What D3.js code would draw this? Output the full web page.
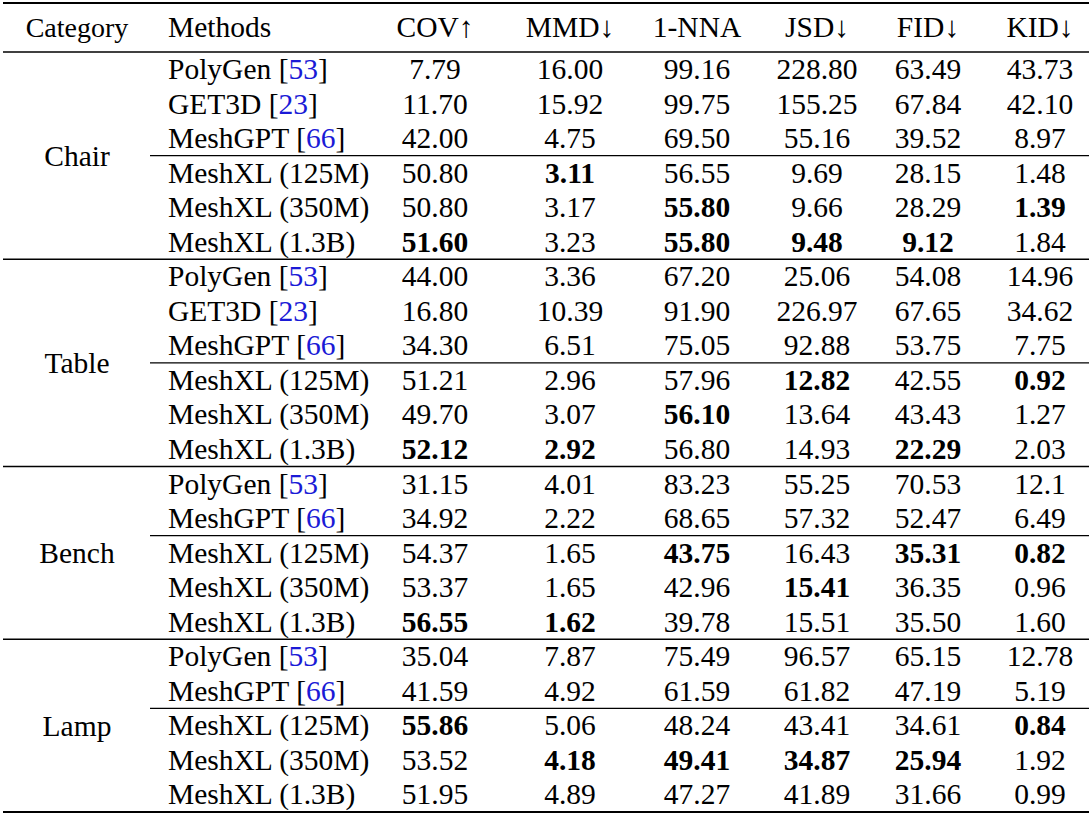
<!DOCTYPE html>
<html><head><meta charset="utf-8">
<script src="https://cdn.jsdelivr.net/npm/d3@7"></script>
<style>html,body{margin:0;padding:0;background:#fff}</style>
</head><body><svg id="c" width="1092" height="815"></svg>
<script>
const headers = ["Category","Methods","COV↑","MMD↓","1-NNA","JSD↓","FID↓","KID↓"];
const categories = ["Chair","Table","Bench","Lamp"];
const methods = [
 ["PolyGen","53"],["GET3D","23"],["MeshGPT","66"],["MeshXL (125M)",null],["MeshXL (350M)",null],["MeshXL (1.3B)",null],
 ["PolyGen","53"],["GET3D","23"],["MeshGPT","66"],["MeshXL (125M)",null],["MeshXL (350M)",null],["MeshXL (1.3B)",null],
 ["PolyGen","53"],["MeshGPT","66"],["MeshXL (125M)",null],["MeshXL (350M)",null],["MeshXL (1.3B)",null],
 ["PolyGen","53"],["MeshGPT","66"],["MeshXL (125M)",null],["MeshXL (350M)",null],["MeshXL (1.3B)",null]
];
const rowCategory = [0,0,0,0,0,0,1,1,1,1,1,1,2,2,2,2,2,3,3,3,3,3];
const values = [
 ["7.79","16.00","99.16","228.80","63.49","43.73"],
 ["11.70","15.92","99.75","155.25","67.84","42.10"],
 ["42.00","4.75","69.50","55.16","39.52","8.97"],
 ["50.80","*3.11","56.55","9.69","28.15","1.48"],
 ["50.80","3.17","*55.80","9.66","28.29","*1.39"],
 ["*51.60","3.23","*55.80","*9.48","*9.12","1.84"],
 ["44.00","3.36","67.20","25.06","54.08","14.96"],
 ["16.80","10.39","91.90","226.97","67.65","34.62"],
 ["34.30","6.51","75.05","92.88","53.75","7.75"],
 ["51.21","2.96","57.96","*12.82","42.55","*0.92"],
 ["49.70","3.07","*56.10","13.64","43.43","1.27"],
 ["*52.12","*2.92","56.80","14.93","*22.29","2.03"],
 ["31.15","4.01","83.23","55.25","70.53","12.1"],
 ["34.92","2.22","68.65","57.32","52.47","6.49"],
 ["54.37","1.65","*43.75","16.43","*35.31","*0.82"],
 ["53.37","1.65","42.96","*15.41","36.35","0.96"],
 ["*56.55","*1.62","39.78","15.51","35.50","1.60"],
 ["35.04","7.87","75.49","96.57","65.15","12.78"],
 ["41.59","4.92","61.59","61.82","47.19","5.19"],
 ["*55.86","5.06","48.24","43.41","34.61","*0.84"],
 ["53.52","*4.18","*49.41","*34.87","*25.94","1.92"],
 ["51.95","4.89","47.27","41.89","31.66","0.99"]
];
const innerRuleAfter = [2,8,13,18];

const svg = d3.select("#c");
const font = "'Liberation Serif','Times New Roman',serif";
const fs = 29.5;
const colX = [77,168,435,570,697,817,928,1040];
const headTop = 52;
const y = d3.scaleLinear().domain([0,22]).range([headTop, headTop+760]);
const g = svg.append("g").attr("font-family",font).attr("font-size",fs).attr("fill","#000");

function line(x1,x2,yy,w){svg.append("line").attr("x1",x1).attr("x2",x2).attr("y1",yy).attr("y2",yy).attr("stroke","#000").attr("stroke-width",w);}
line(3,1089,3,2.2);
line(3,1089,headTop,1.6);
line(3,1089,y(22),2.2);
[6,12,17].forEach(r=>line(3,1089,y(r),1.6));
innerRuleAfter.forEach(r=>line(150,1089,y(r+1),1.2));

headers.forEach((h,i)=>{
  g.append("text").attr("x",colX[i]).attr("y",37).attr("text-anchor",i===1?"start":"middle")
   .attr("font-size",i===0?28:fs).text(h);
});
methods.forEach((m,r)=>{
  const t = g.append("text").attr("x",colX[1]).attr("y",y(r)+27);
  t.append("tspan").text(m[0]);
  if(m[1]){ t.append("tspan").text(" ["); t.append("tspan").attr("fill","#1a1ad6").text(m[1]); t.append("tspan").text("]"); }
  values[r].forEach((v,j)=>{
    const b = v.startsWith("*");
    g.append("text").attr("x",colX[j+2]).attr("y",y(r)+27).attr("text-anchor","middle")
     .attr("font-weight",b?"bold":null).text(b?v.slice(1):v);
  });
});
categories.forEach((c,k)=>{
  const rows = rowCategory.map((v,i)=>v===k?i:-1).filter(i=>i>=0);
  const mid = (y(rows[0])+y(rows[rows.length-1]+1))/2;
  g.append("text").attr("x",colX[0]).attr("y",mid+10).attr("text-anchor","middle").text(c);
});
</script></body></html>
